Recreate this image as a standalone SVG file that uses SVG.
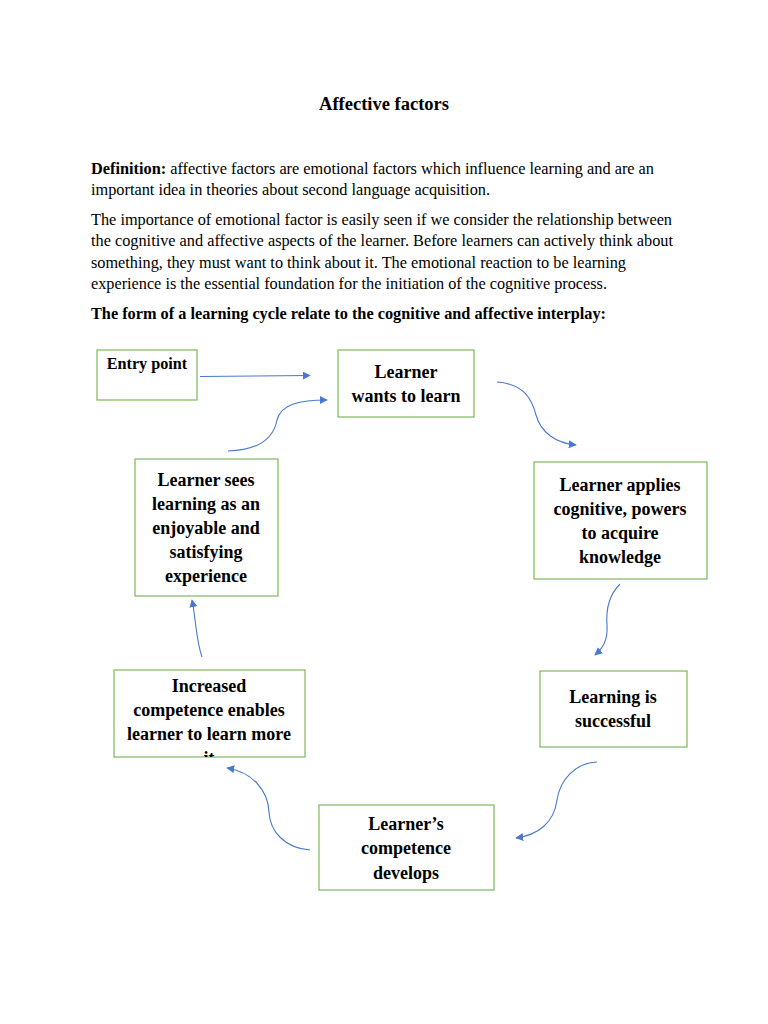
<svg xmlns="http://www.w3.org/2000/svg" width="768" height="1024" viewBox="0 0 768 1024">
<style>
.t{font-family:"Liberation Serif","Times New Roman",serif;fill:#000}
.p{font-size:16px}
.b{font-weight:bold}
.n{font-family:"Liberation Serif","Times New Roman",serif;font-weight:bold;font-size:18px;text-anchor:middle;fill:#000}
.box{fill:#fff;stroke:#7cb85a;stroke-width:1.2}
.c{fill:none;stroke:#4a78cc;stroke-width:1.1;marker-end:url(#ah)}
</style>
<defs>
<marker id="ah" viewBox="0 0 10 10" refX="9" refY="5" markerWidth="8" markerHeight="8" markerUnits="userSpaceOnUse" orient="auto">
<path d="M0,0 L10,5 L0,10 z" fill="#4a78cc"/>
</marker>
<clipPath id="clipInc"><rect x="114" y="670" width="191" height="87"/></clipPath>
</defs>
<rect width="768" height="1024" fill="#fff"/>
<g id="text">
<text class="t b" x="384" y="110" font-size="18.5" text-anchor="middle">Affective factors</text>
<text class="t p" x="91" y="174" textLength="563" lengthAdjust="spacingAndGlyphs"><tspan font-weight="bold">Definition:</tspan> affective factors are emotional factors which influence learning and are an</text>
<text class="t p" x="91" y="195" textLength="399" lengthAdjust="spacingAndGlyphs">important idea in theories about second language acquisition.</text>
<text class="t p" x="91" y="225" textLength="581" lengthAdjust="spacingAndGlyphs">The importance of emotional factor is easily seen if we consider the relationship between</text>
<text class="t p" x="91" y="246" textLength="582" lengthAdjust="spacingAndGlyphs">the cognitive and affective aspects of the learner. Before learners can actively think about</text>
<text class="t p" x="91" y="268" textLength="535" lengthAdjust="spacingAndGlyphs">something, they must want to think about it. The emotional reaction to be learning</text>
<text class="t p" x="91" y="289" textLength="516" lengthAdjust="spacingAndGlyphs">experience is the essential foundation for the initiation of the cognitive process.</text>
<text class="t p b" x="91" y="319" textLength="515" lengthAdjust="spacingAndGlyphs">The form of a learning cycle relate to the cognitive and affective interplay:</text>
</g>
<g id="connectors">
<path class="c" d="M200,376.5 L310,375.5"/>
<path class="c" d="M228,451 C262,450 274,436 277,420 C281,404 300,400 327,400"/>
<path class="c" d="M497,382 C525,384 532,400 536,415 C541,433 556,443 576,445"/>
<path class="c" d="M620,584 C608,596 606,612 607,625 C608,640 603,648 595,655"/>
<path class="c" d="M597,762 C575,763 560,780 557,800 C554,823 538,835 516,838"/>
<path class="c" d="M310,850 C285,848 270,832 269,812 C268,790 252,772 227,768"/>
<path class="c" d="M202,657 C196,640 196,620 192,600"/>
</g>
<g id="n-entry">
<rect class="box" x="97" y="350" width="100" height="50"/>
<text class="n" x="147" y="369" style="font-size:16.2px">Entry point</text>
</g>
<g id="n-wants">
<rect class="box" x="338" y="350" width="136" height="67"/>
<text class="n" x="406" y="378">Learner</text>
<text class="n" x="406" y="402">wants to learn</text>
</g>
<g id="n-applies">
<rect class="box" x="534" y="462" width="173" height="117"/>
<text class="n" x="620" y="491">Learner applies</text>
<text class="n" x="620" y="515">cognitive, powers</text>
<text class="n" x="620" y="539">to acquire</text>
<text class="n" x="620" y="563">knowledge</text>
</g>
<g id="n-success">
<rect class="box" x="540" y="671" width="147" height="76"/>
<text class="n" x="613" y="703">Learning is</text>
<text class="n" x="613" y="727">successful</text>
</g>
<g id="n-develops">
<rect class="box" x="319" y="805" width="175" height="85"/>
<text class="n" x="406" y="830">Learner’s</text>
<text class="n" x="406" y="854">competence</text>
<text class="n" x="406" y="879">develops</text>
</g>
<g id="n-increased">
<rect class="box" x="114" y="670" width="191" height="87"/>
<text class="n" x="209" y="692">Increased</text>
<text class="n" x="209" y="716">competence enables</text>
<text class="n" x="209" y="740">learner to learn more</text>
<text class="n" x="209" y="764" clip-path="url(#clipInc)">it</text>
</g>
<g id="n-enjoy">
<rect class="box" x="135" y="459" width="143" height="137"/>
<text class="n" x="206" y="486">Learner sees</text>
<text class="n" x="206" y="510">learning as an</text>
<text class="n" x="206" y="534">enjoyable and</text>
<text class="n" x="206" y="558">satisfying</text>
<text class="n" x="206" y="582">experience</text>
</g>
</svg>
